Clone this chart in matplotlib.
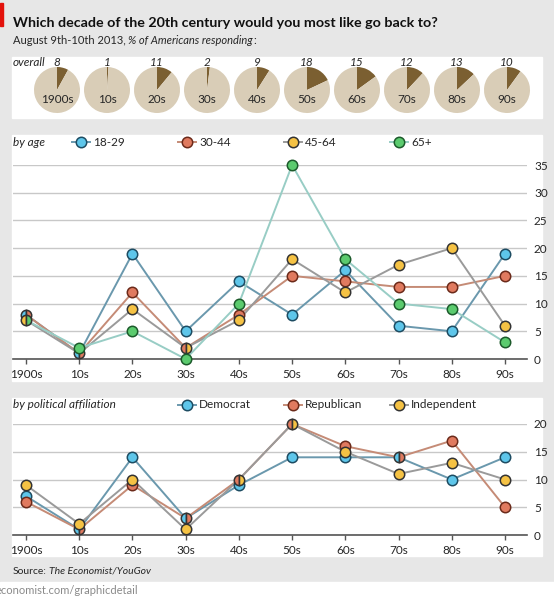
import matplotlib
matplotlib.use("Agg")
import matplotlib.pyplot as plt
from matplotlib.patches import Rectangle

decades = ["1900s", "10s", "20s", "30s", "40s", "50s", "60s", "70s", "80s", "90s"]
overall = [8, 1, 11, 2, 9, 18, 15, 12, 13, 10]

age_groups = ["18-29", "30-44", "45-64", "65+"]
age_18_29 = [8, 1, 19, 5, 14, 8, 16, 6, 5, 19]
age_30_44 = [8, 1, 12, 2, 8, 15, 14, 13, 13, 15]
age_45_64 = [7, 1, 9, 2, 7, 18, 12, 17, 20, 6]
age_65_up = [7, 2, 5, 0, 10, 35, 18, 10, 9, 3]

parties = ["Democrat", "Republican", "Independent"]
democrat = [7, 1, 14, 3, 9, 14, 14, 14, 10, 14]
republican = [6, 1, 9, 3, 10, 20, 16, 14, 17, 5]
independent = [9, 2, 10, 1, 10, 20, 15, 11, 13, 10]

# line colour, marker fill, marker edge
blue = ("#6a98ad", "#5ec6ea", "#1d4c62")
red = ("#c58b76", "#e07a5f", "#6b2a1a")
yellow = ("#9a9a9a", "#f5c244", "#333333")
green = ("#98cdc5", "#5bcb6e", "#1c5a2b")

W, H = 554, 600
FONT = "Lato"
plt.rcParams["font.family"] = [FONT, "DejaVu Sans"]
TXT = "#262626"

fig = plt.figure(figsize=(W / 100, H / 100), dpi=100)
fig.patch.set_facecolor("#e7e7e7")

bg = fig.add_axes([0, 0, 1, 1], zorder=-1)
bg.set_xlim(0, W)
bg.set_ylim(H, 0)
bg.axis("off")

# panels
bg.add_patch(Rectangle((0, 3), 3, 23, color="#e3120b"))
bg.add_patch(Rectangle((12, 57), 530, 61, color="white"))
bg.add_patch(Rectangle((12, 135), 530, 246, color="white"))
bg.add_patch(Rectangle((12, 398), 530, 158, color="white"))
bg.add_patch(Rectangle((0, 582), W, 18, color="white"))

renderer = fig.canvas.get_renderer()


def seg_text(x, y, parts, gap=2.5, **kw):
    for s, style in parts:
        t = bg.text(x, y, s.rstrip(), style=style, **kw)
        x += t.get_window_extent(renderer).width
        if s.endswith(" "):
            x += gap


bg.text(13, 23, "Which decade of the 20th century would you most like go back to?",
        fontsize=10.3, fontweight="bold", color="#111111", va="center")
seg_text(13, 41, [("August 9th-10th 2013, ", "normal"),
                  ("% of Americans responding", "italic"), (":", "normal")],
         fontsize=8, color=TXT, va="center")

# overall pies
bg.text(13, 62, "overall", style="italic", fontsize=8.5, color=TXT, va="center")
for i, v in enumerate(overall):
    cx, cy, r = 57 + 50 * i, 90, 23
    pax = fig.add_axes([(cx - r) / W, 1 - (cy + r) / H, 2 * r / W, 2 * r / H])
    pax.pie([v, 100 - v], colors=["#7b5f31", "#d9cdb7"], startangle=90,
            counterclock=False, radius=1)
    pax.set_xlim(-1, 1)
    pax.set_ylim(-1, 1)
    pax.text(0, -0.4, decades[i], ha="center", va="center", fontsize=8.5, color=TXT)
    bg.text(cx, 62, str(v), ha="center", va="center", style="italic", fontsize=8.5, color=TXT)


def axes_px(x0, y0, x1, y1):
    return fig.add_axes([x0 / W, 1 - y1 / H, (x1 - x0) / W, (y1 - y0) / H])


def line_chart(ax, series, colors, ymax, yticks):
    x = list(range(len(decades)))
    ax.set_facecolor("none")
    for vals, c in zip(series, colors):
        ax.plot(x, vals, color=c[0], lw=1.4, zorder=2, clip_on=False)
    for i in x:
        groups = {}
        for vals, c in zip(series, colors):
            groups.setdefault(vals[i], []).append(c)
        for v, cs in groups.items():
            if len(cs) == 1:
                ax.plot(i, v, "o", ms=7.5, mfc=cs[0][1], mec=cs[0][2], mew=1.1,
                        zorder=3, clip_on=False)
            else:
                ax.plot(i, v, "o", ms=7.5, fillstyle="left", mfc=cs[0][1],
                        markerfacecoloralt=cs[1][1], mec="#333333", mew=1.1,
                        zorder=3, clip_on=False)
    ax.set_xlim(-13 / 53.2, 9 + 22 / 53.2)
    ax.set_ylim(0, ymax)
    ax.set_xticks(x)
    ax.set_xticklabels(decades)
    ax.set_yticks(yticks)
    ax.yaxis.tick_right()
    ax.tick_params(axis="y", length=0, pad=5, labelsize=8.5, labelcolor=TXT)
    ax.tick_params(axis="x", length=3.5, width=1, color="#555555", pad=3.5,
                   labelsize=8.5, labelcolor=TXT)
    for s in ["top", "left", "right"]:
        ax.spines[s].set_visible(False)
    ax.spines["bottom"].set_color("#555555")
    ax.spines["bottom"].set_linewidth(1.2)
    ax.yaxis.grid(True, color="#c8c8c8", lw=1)
    ax.set_axisbelow(True)


def legend_row(y, title, names, colors, first_slot):
    bg.text(13, y, title, style="italic", fontsize=8.5, color=TXT, va="center")
    for j, (n, c) in enumerate(zip(names, colors)):
        mx = 81 + 106 * (j + first_slot)
        bg.plot([mx - 9, mx + 9], [y, y], color=c[0], lw=1.4)
        bg.plot(mx, y, "o", ms=7.5, mfc=c[1], mec=c[2], mew=1.1)
        bg.text(mx + 12, y, n, fontsize=8.5, color=TXT, va="center")


ax1 = axes_px(13, 165, 527, 359)
line_chart(ax1, [age_18_29, age_30_44, age_45_64, age_65_up],
           [blue, red, yellow, green], 35, range(0, 36, 5))
legend_row(142, "by age", age_groups, [blue, red, yellow, green], 0)

ax2 = axes_px(13, 424, 527, 535)
line_chart(ax2, [democrat, republican, independent],
           [blue, red, yellow], 20, range(0, 21, 5))
legend_row(405, "by political affiliation", parties, [blue, red, yellow], 1)

seg_text(13, 571, [("Source: ", "normal"), ("The Economist/YouGov", "italic")],
         fontsize=7.5, color=TXT, va="center")
bg.text(-4, 591, "economist.com/graphicdetail", fontsize=8, color="#8a8a8a", va="center")

fig.savefig("out.png", dpi=100, facecolor=fig.get_facecolor())
